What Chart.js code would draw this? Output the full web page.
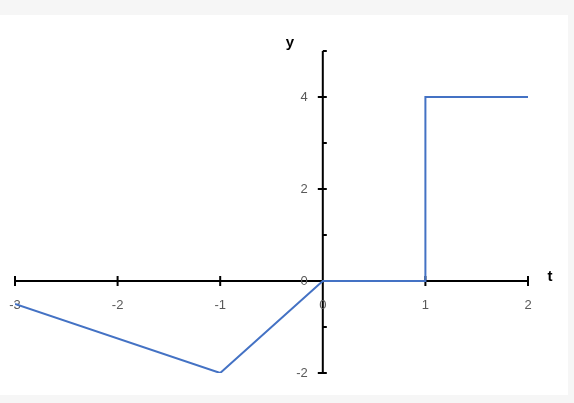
<!DOCTYPE html>
<html><head><meta charset="utf-8">
<script src="https://cdn.jsdelivr.net/npm/chart.js@4/dist/chart.umd.min.js"></script>
<style>
html,body{margin:0;padding:0;background:#f6f6f6;width:574px;height:403px;overflow:hidden}
#wrap{position:absolute;left:0;top:15px;width:568px;height:380px;background:#fff}
</style></head><body>
<div id="wrap"><canvas id="c" width="568" height="380"></canvas></div>
<script>
const tValues = [-3, -1, 0, 1, 1, 2];
const yValues = [-0.5, -2, 0, 0, 4, 4];
const xTicks = [-3, -2, -1, 0, 1, 2];
const yTicks = [-2, -1, 0, 1, 2, 3, 4, 5];
const yLabels = [-2, 0, 2, 4];

const axesPlugin = {
  id: 'axes',
  beforeDatasetsDraw(chart) {
    const {ctx, scales:{x, y}} = chart;
    const x0 = x.getPixelForValue(0), y0 = y.getPixelForValue(0);
    ctx.save();
    ctx.strokeStyle = '#000'; ctx.lineWidth = 2;
    ctx.beginPath();
    ctx.moveTo(x.getPixelForValue(xTicks[0]), y0); ctx.lineTo(x.getPixelForValue(xTicks[xTicks.length-1]), y0);
    ctx.moveTo(x0, y.getPixelForValue(yTicks[0])); ctx.lineTo(x0, y.getPixelForValue(yTicks[yTicks.length-1]));
    xTicks.forEach(v => { const p = x.getPixelForValue(v); ctx.moveTo(p, y0-5); ctx.lineTo(p, y0+5); });
    yTicks.forEach(v => { const p = y.getPixelForValue(v); const major = yLabels.includes(v);
      ctx.moveTo(major ? x0-5 : x0, p); ctx.lineTo(x0+4, p); });
    ctx.stroke();
    ctx.fillStyle = '#595959'; ctx.font = '13px "Liberation Sans", Arial, sans-serif';
    ctx.textAlign = 'center'; ctx.textBaseline = 'middle';
    xTicks.forEach(v => ctx.fillText(String(v), x.getPixelForValue(v), y0 + 24));
    ctx.textAlign = 'right';
    yLabels.forEach(v => ctx.fillText(String(v), x0 - 15, y.getPixelForValue(v)));
    ctx.fillStyle = '#000'; ctx.font = 'bold 15px "Liberation Sans", Arial, sans-serif';
    ctx.textAlign = 'center';
    ctx.fillText('y', x0 - 33, y.getPixelForValue(5) - 8);
    ctx.fillText('t', x.getPixelForValue(2) + 22, y0 - 4);
    ctx.restore();
  }
};

new Chart(document.getElementById('c'), {
  type: 'scatter',
  data: { datasets: [{ data: tValues.map((t,i)=>({x:t, y:yValues[i]})), showLine: true,
    borderColor: '#4472C4', borderWidth: 2, pointRadius: 0, fill: false, tension: 0 }] },
  options: {
    responsive: false, animation: false,
    layout: { padding: { left: 15, right: 40, top: 36, bottom: 22 } },
    plugins: { legend: { display: false }, tooltip: { enabled: false } },
    scales: {
      x: { type: 'linear', min: -3, max: 2, display: false },
      y: { type: 'linear', min: -2, max: 5, display: false }
    }
  },
  plugins: [axesPlugin]
});
</script>
</body></html>
